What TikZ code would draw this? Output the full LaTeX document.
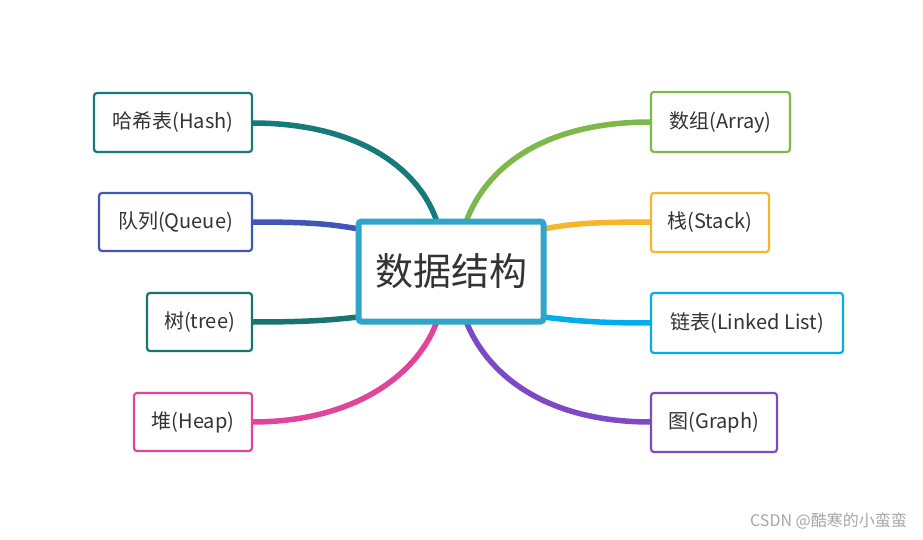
\documentclass[tikz,border=0pt]{standalone}
\usepackage{fontspec}
\setmainfont{Noto Sans CJK SC}
\definecolor{cHash}{HTML}{167A78}
\definecolor{cQueue}{HTML}{3F55B8}
\definecolor{cTree}{HTML}{177470}
\definecolor{cHeap}{HTML}{E0449B}
\definecolor{cArr}{HTML}{7DB84A}
\definecolor{cStack}{HTML}{F7B52C}
\definecolor{cLL}{HTML}{00AEEF}
\definecolor{cGraph}{HTML}{7B4AC4}
\definecolor{cCenter}{HTML}{2FA5C9}
\definecolor{txt}{HTML}{333333}
\begin{document}
\begin{tikzpicture}[x=1pt,y=-1pt,
  leaf/.style={draw=#1,line width=2.2pt,rounded corners=3pt,fill=white,text=txt,font=\fontsize{20}{23}\selectfont,inner sep=0pt},
  conn/.style={draw=#1,line width=5.5pt}]
\useasboundingbox[fill=white] (0,0) rectangle (923,540);
\coordinate (cHt) at (437,222); \coordinate (cAt) at (466,222);
\coordinate (cHb) at (437,321); \coordinate (cAb) at (466,321);
\coordinate (cL1) at (359,229); \coordinate (cL2) at (359,317);
\coordinate (cR1) at (543,229); \coordinate (cR2) at (543,317);
\coordinate (hashE) at (252,123); \coordinate (queueE) at (252,222);
\coordinate (treeE) at (252,322); \coordinate (heapE) at (252,422);
\coordinate (arrE) at (651,122); \coordinate (stackE) at (651,222);
\coordinate (llE) at (651,323); \coordinate (graphE) at (651,422);
\draw[conn=cHash] (hashE) .. controls (360,123) and (420,170) .. (cHt);
\draw[conn=cQueue] (queueE) .. controls (310,222) and (330,224) .. (cL1);
\draw[conn=cTree] (treeE) .. controls (310,322) and (330,320) .. (cL2);
\draw[conn=cHeap] (heapE) .. controls (360,422) and (420,370) .. (cHb);
\draw[conn=cArr] (arrE) .. controls (540,122) and (485,170) .. (cAt);
\draw[conn=cStack] (stackE) .. controls (590,222) and (570,224) .. (cR1);
\draw[conn=cLL] (llE) .. controls (590,323) and (570,320) .. (cR2);
\draw[conn=cGraph] (graphE) .. controls (540,422) and (485,370) .. (cAb);
\node[draw=cCenter,line width=6pt,rounded corners=3pt,fill=white,text=txt,minimum width=185pt,minimum height=100pt,font=\fontsize{38}{42}\selectfont] (center) at (451,271.5) {数据结构};
\node[leaf=cHash,minimum width=158pt,minimum height=59pt] (hash) at (173,122.5) {哈希表(Hash)};
\node[leaf=cQueue,minimum width=153pt,minimum height=58pt] (queue) at (175.5,222) {队列(Queue)};
\node[leaf=cTree,minimum width=105pt,minimum height=58pt] (tree) at (199.5,322) {树(tree)};
\node[leaf=cHeap,minimum width=118pt,minimum height=58pt] (heap) at (193,422) {堆(Heap)};
\node[leaf=cArr,minimum width=139pt,minimum height=60pt] (arr) at (720.5,122) {数组(Array)};
\node[leaf=cStack,minimum width=118pt,minimum height=59pt] (stack) at (710,222.5) {栈(Stack)};
\node[leaf=cLL,minimum width=192pt,minimum height=60pt] (ll) at (747,323) {链表(Linked List)};
\node[leaf=cGraph,minimum width=126pt,minimum height=59pt] (graph) at (714,422.5) {图(Graph)};
\node[text=gray!70,font=\fontsize{16}{18}\selectfont,anchor=east,inner sep=0pt] (wm) at (907,521) {CSDN @酷寒的小蛮蛮};
\end{tikzpicture}
\end{document}
